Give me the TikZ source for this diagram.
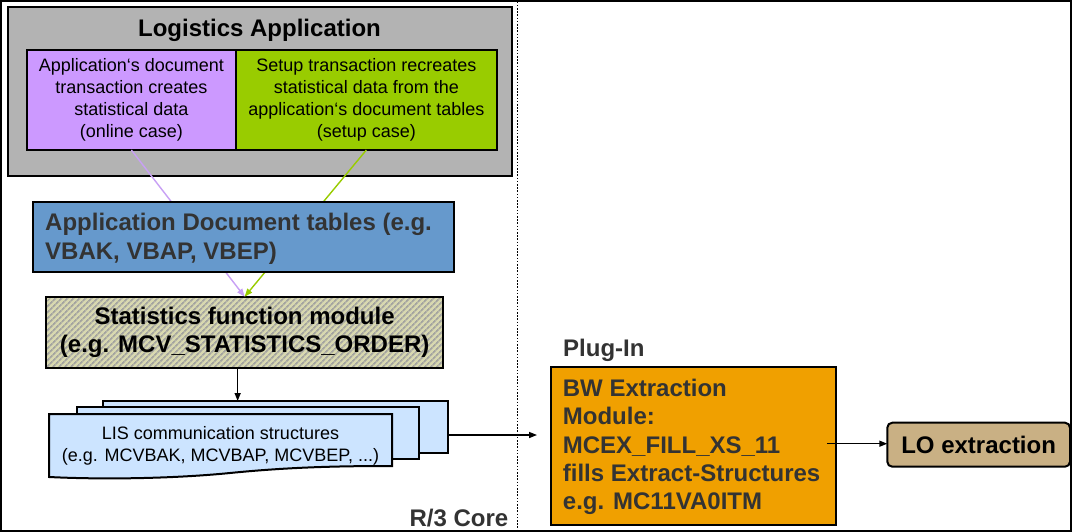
\documentclass[tikz,border=0pt]{standalone}
\usepackage{fontspec}
\setmainfont{Liberation Sans}
\usetikzlibrary{arrows.meta,patterns.meta,calc}
\definecolor{grayfill}{HTML}{B3B3B3}
\definecolor{purplefill}{HTML}{CC99FF}
\definecolor{greenfill}{HTML}{99CC00}
\definecolor{bluefill}{HTML}{6699CC}
\definecolor{orangefill}{HTML}{F0A000}
\definecolor{tanfill}{HTML}{C9B084}
\definecolor{lisfill}{HTML}{CCE4FF}
\definecolor{khaki}{HTML}{D8D8B0}
\definecolor{stripe}{HTML}{A4A4A0}
\definecolor{darktext}{HTML}{333333}
\definecolor{purpleline}{HTML}{C8A0F5}
\definecolor{greenline}{HTML}{99CC00}
\begin{document}
\begin{tikzpicture}[x=1pt,y=-1pt,
  box/.style={draw=black, line width=2pt, inner sep=0pt, outer sep=0pt},
  reg/.style={font=\fontsize{18}{21.8}\selectfont, align=center},
  bld/.style={font=\fontsize{24}{28.5}\selectfont\bfseries},
  conn/.style={line width=1.4pt, -{Triangle[length=8pt,width=6pt]}},
]
\useasboundingbox (0,0) rectangle (1073,532);
\fill[white] (0,0) rectangle (1073,532);
% outer frame and divider
\draw[line width=1.6pt] (0.8,0.8) rectangle (1071,531);
\draw[line width=1.8pt, dash pattern=on 1.6pt off 1.6pt] (517.5,1.6) -- (517.5,530.2);

% logistics application
\node[box, fill=grayfill, minimum width=503.4, minimum height=169.3] (logapp) at (260,91.35) {};
\node[bld, inner sep=0pt] (logtitle) at (259.5,30.6) {Logistics Application};
\node[box, fill=purplefill, minimum width=209.3, minimum height=100, reg] (online) at (131.35,100) {Application‘s document\\transaction creates\\statistical data\\(online case)};
\node[box, fill=greenfill, minimum width=260.7, minimum height=100, reg] (setup) at (366.35,100) {Setup transaction recreates\\statistical data from the\\application‘s document tables\\(setup case)};

% statistics function module
\node[box, preaction={fill=khaki}, pattern={Lines[angle=45,distance=4pt,line width=1.8pt]}, pattern color=stripe,
  minimum width=397.3, minimum height=71.6, bld, align=center, text=black] (stats) at (244.65,332.5)
  {Statistics function module\\(e.g. MCV\_STATISTICS\_ORDER)};

% connectors behind the blue box
\draw[conn, purpleline] (online.south) -- (stats.north);
\draw[conn, greenline] (setup.south) -- (stats.north);

% application document tables
\node[box, fill=bluefill, minimum width=421.3, minimum height=70] (doctables) at (243.35,236.7) {};
\node[bld, text=darktext, align=left, inner sep=0pt, anchor=west] (doctext) at (45,239)
  {Application Document tables (e.g.\\VBAK, VBAP, VBEP)};

% LIS communication structures (stack of documents)
\node[box, fill=lisfill, minimum width=345, minimum height=51.7] (lisback) at (275.5,426.85) {};
\node[box, fill=lisfill, minimum width=342, minimum height=52] (lismid) at (248,433) {};
\draw[line width=2pt, fill=lisfill] (49,414) -- (392,414) -- (392,466)
  .. controls (340,466) and (290,467) .. (230,473)
  .. controls (180,478) and (110,480) .. (49,477) -- cycle;
\node[reg, text=black, inner sep=0pt] (lis) at (220.5,446) {LIS communication structures\\(e.g. MCVBAK, MCVBAP, MCVBEP, ...)};

\draw[conn] ([xshift=-7pt]stats.south) -- ([xshift=-7pt]stats.south |- lisback.north);

\node[bld, text=darktext, anchor=base east, inner sep=0pt] (core) at (508.5,526) {R/3 Core};

% plug-in
\node[bld, text=darktext, anchor=base west, inner sep=0pt] (pluglabel) at (563,356.7) {Plug-In};
\node[box, fill=orangefill, minimum width=285, minimum height=158] (orange) at (693.5,446) {};
\node[bld, text=darktext, align=left, anchor=west, inner sep=0pt, font=\fontsize{24}{28.3}\selectfont\bfseries] (orangetext) at (562.7,447)
  {BW Extraction\\Module:\\MCEX\_FILL\_XS\_11\\fills Extract-Structures\\e.g. MC11VA0ITM};
\coordinate (plugtip) at (537,435);
\draw[conn] (lisback.east |- plugtip) -- (plugtip);

\node[box, fill=tanfill, rounded corners=5pt, minimum width=182.7, minimum height=44, bld, text=black] (lo) at (978.65,444.7) {LO extraction};
\draw[conn] ($(orange.east |- lo.west)+(-9,-1)$) -- ($(lo.west)+(0,-1)$);
\end{tikzpicture}
\end{document}
